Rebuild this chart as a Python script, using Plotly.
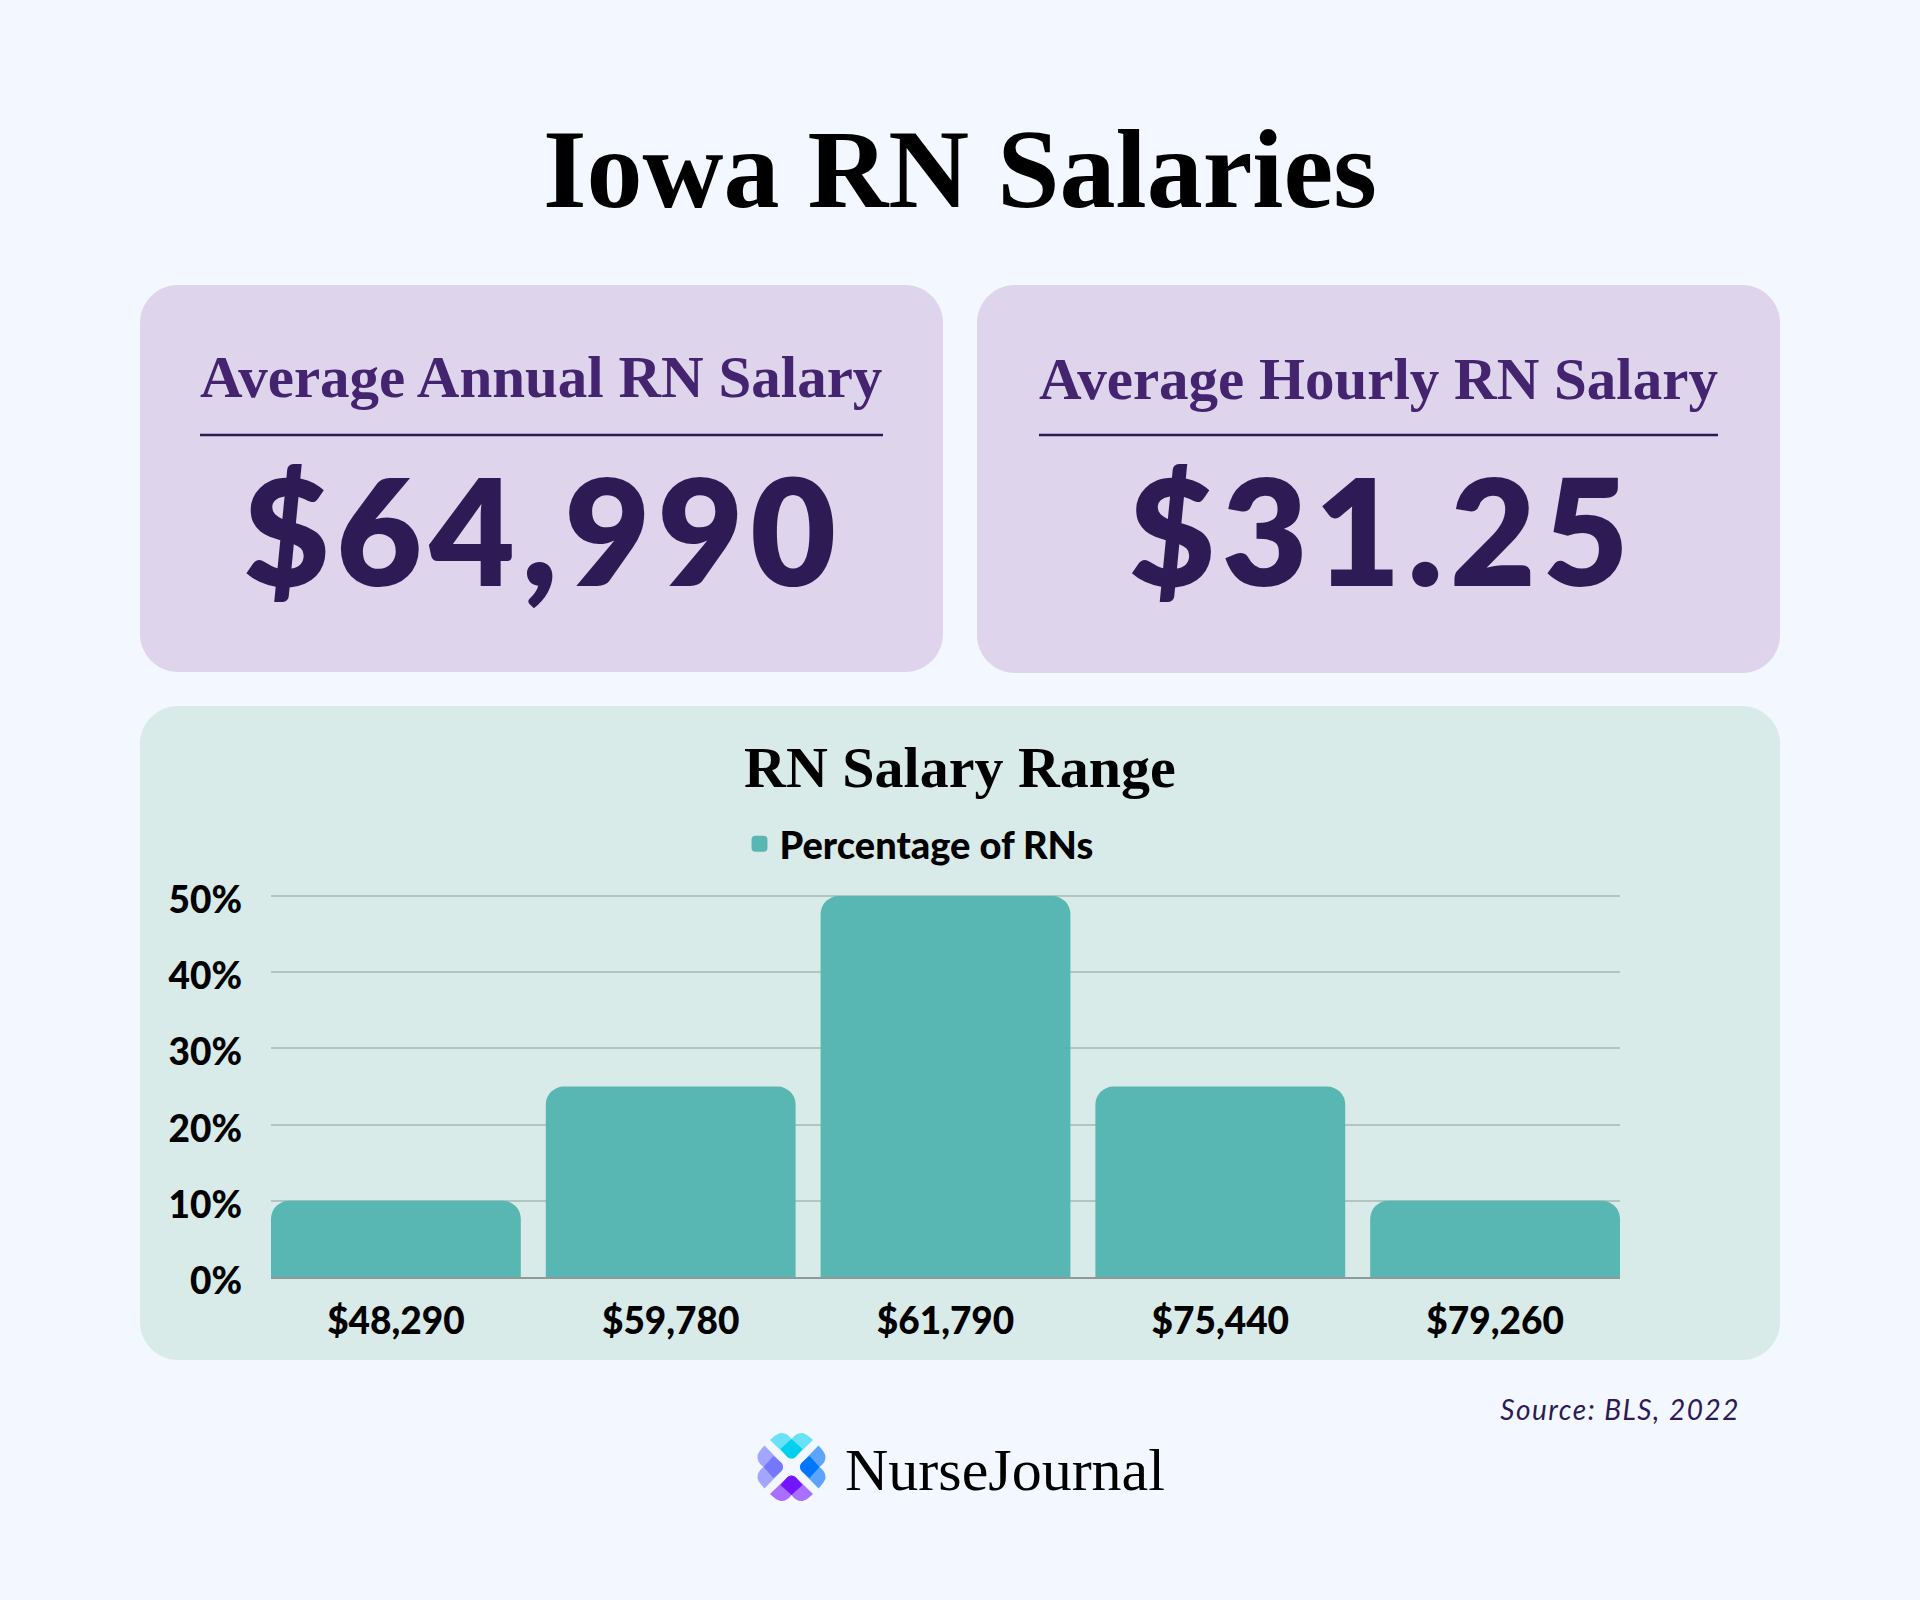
import math
import plotly.graph_objects as go

salary_labels = ["$48,290", "$59,780", "$61,790", "$75,440", "$79,260"]
pct_rns = [10, 25, 50, 25, 10]
y_ticks = [0, 10, 20, 30, 40, 50]
y_tick_labels = ["0%", "10%", "20%", "30%", "40%", "50%"]
series_name = "Percentage of RNs"

W, H = 1920, 1600
BG = "#F3F7FF"; LILAC = "#DED4EC"; MINT = "#D8EBE8"; TEAL = "#58B7B3"
DARK = "#2E1A55"; PURPLE = "#44246F"

def px(x): return x / W
def py(y): return 1 - y / H

def rrect(x0, y0, x1, y1, r):
    k = 0.5523 * r
    pts = [(x0 + r, y0), (x1 - r, y0), (x1 - r + k, y0, x1, y0 + r - k, x1, y0 + r),
           (x1, y1 - r), (x1, y1 - r + k, x1 - r + k, y1, x1 - r, y1), (x0 + r, y1),
           (x0 + r - k, y1, x0, y1 - r + k, x0, y1 - r), (x0, y0 + r),
           (x0, y0 + r - k, x0 + r - k, y0, x0 + r, y0)]
    s = f"M{px(pts[0][0])},{py(pts[0][1])}"
    for p in pts[1:]:
        if len(p) == 2:
            s += f" L{px(p[0])},{py(p[1])}"
        else:
            s += f" C{px(p[0])},{py(p[1])} {px(p[2])},{py(p[3])} {px(p[4])},{py(p[5])}"
    return s + " Z"

shapes = []
for (x0, y0, x1, y1, c) in [(140, 285, 943, 672, LILAC), (977, 285, 1780, 673, LILAC),
                            (140, 706, 1780, 1360, MINT)]:
    shapes.append(dict(type="path", path=rrect(x0, y0, x1, y1, 38), xref="paper", yref="paper",
                       fillcolor=c, line_width=0, layer="below"))
for (x0, x1) in [(200, 883), (1039, 1718)]:
    shapes.append(dict(type="line", x0=px(x0), x1=px(x1), y0=py(435), y1=py(435), xref="paper",
                       yref="paper", line=dict(color=DARK, width=2.5), layer="below"))

LCX, LCY = 791.5, 1467
def logo_path(points, angle):
    c, s = math.cos(angle), math.sin(angle)
    out = []
    for seg in points:
        cmd, coords = seg[0], seg[1:]
        txt = []
        for i in range(0, len(coords), 2):
            x, y = coords[i], coords[i + 1]
            X = LCX + x * c - y * s
            Y = LCY + x * s + y * c
            txt.append(f"{px(X)},{py(Y)}")
        out.append(cmd + " ".join(txt))
    return " ".join(out) + " Z"

heart = [("M", -21.5, -27), ("C", -16, -32, -13, -34, -10, -34), ("C", -6, -34, -3, -32, 0, -28),
         ("C", 3, -32, 6, -34, 10, -34), ("C", 13, -34, 16, -32, 21.5, -27),
         ("L", 4, -10), ("C", 1.5, -8, -1.5, -8, -4, -10)]
diamond = [("M", 0, -28), ("L", 11, -18), ("L", 4, -10), ("C", 1.5, -8, -1.5, -8, -4, -10),
           ("L", -11, -18)]
logo_cols = [("#67E2F6", "#00CFF0"), ("#5BA5FF", "#0077FF"), ("#A96FFF", "#7316FF"), ("#A3A6FF", "#7478FF")]
for i, (lt, dk) in enumerate(logo_cols):
    a = i * math.pi / 2
    for pts, col in ((heart, lt), (diamond, dk)):
        shapes.append(dict(type="path", path=logo_path(pts, a), xref="paper", yref="paper",
                           fillcolor=col, line_width=0))

def note(text, x, y, size, color, family, weight=400, style="normal", xanchor="center"):
    return dict(text=text, x=px(x), y=py(y), xref="paper", yref="paper", showarrow=False,
                xanchor=xanchor, yanchor="middle",
                font=dict(size=size, color=color, family=family, weight=weight, style=style))

SERIF = "Liberation Serif"
annotations = [
    note("Iowa RN Salaries", 960, 169, 112, "#000000", SERIF, 700),
    note("Average Annual RN Salary", 541, 377, 59, PURPLE, SERIF, 700),
    note("Average Hourly RN Salary", 1378, 379, 59, PURPLE, SERIF, 700),
    note("$64,990", 543, 529, 148, DARK, "Lato", 800),
    note("$31.25", 1382, 529, 148, DARK, "Lato", 800),
    note("RN Salary Range", 960, 767, 58, "#000000", SERIF, 700),
    note("Source: BLS, 2022", 1729, 1409, 28, DARK, "Lato", 400, "italic", "right"),
    note("NurseJournal", 842.5, 1470, 60, "#000000", SERIF, 400, "normal", "left"),
]

fig = go.Figure(go.Bar(x=salary_labels, y=pct_rns, name=series_name, marker=dict(color=TEAL, line_width=0),
                       showlegend=True))
fig.update_layout(
    template="none",
    width=W, height=H, margin=dict(l=0, r=0, t=0, b=0, autoexpand=False), paper_bgcolor=BG,
    plot_bgcolor="rgba(0,0,0,0)",
    bargap=0.0909, barcornerradius=18, shapes=shapes, annotations=annotations,
    font=dict(family="Lato", size=37, color="#000000", weight=900),
    legend=dict(orientation="h", x=px(919), xanchor="center", y=py(844), yanchor="middle",
                bgcolor="rgba(0,0,0,0)", font=dict(size=38, family="Lato", weight=900)),
    xaxis=dict(domain=[px(271), px(1620)], type="category", categoryorder="array", categoryarray=salary_labels,
               range=[-0.4545, 4.4545], showgrid=False, showline=True, linecolor="#8F9A98", linewidth=2,
               ticks="", ticklabelstandoff=11, automargin=False,
               tickfont=dict(size=37, family="Lato", weight=900), fixedrange=True),
    yaxis=dict(domain=[py(1277), py(894.5)], range=[0, 50.2], tickmode="array", tickvals=y_ticks,
               ticktext=y_tick_labels, showgrid=True, gridcolor="#B2C5C1", gridwidth=1.5, zeroline=False,
               ticks="", ticklabelstandoff=28, ticklabelshift=4, automargin=False,
               tickfont=dict(size=37, family="Lato", weight=900), fixedrange=True),
)
post = """
document.body.style.margin='0';
function sp(){
  document.querySelectorAll('.annotation-text').forEach(function(t){
    var s=t.textContent;
    if(s.indexOf('$')===0) t.style.letterSpacing='7px';
    if(s.indexOf('Source')===0) t.style.letterSpacing='1.5px';
  });
  document.querySelectorAll('.legendpoints path').forEach(function(p){
    var tr=p.getAttribute('transform')||'';
    if(tr.indexOf('scale')<0) p.setAttribute('transform',tr+' scale(1.33)');
  });
}
sp(); setTimeout(sp,50);
"""
fig.write_html("out.html", post_script=post, config=dict(displayModeBar=False))
